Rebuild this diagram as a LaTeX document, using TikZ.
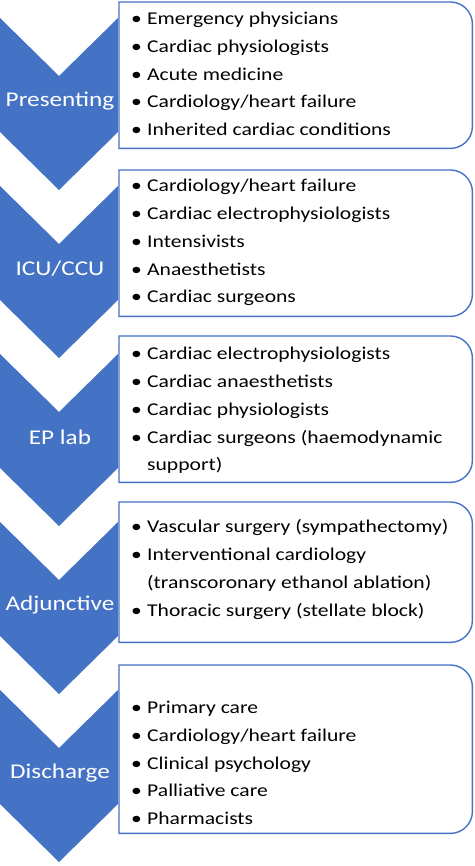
\documentclass[tikz,border=0pt]{standalone}
\usepackage{fontspec}
\setmainfont{Carlito}
\newfontfamily\widefont[FakeStretch=1.2]{Carlito}
\usepackage{tikz}
\usetikzlibrary{positioning,calc}

\definecolor{stageblue}{HTML}{4472C4}

\newcommand{\itm}{\makebox[16pt][l]{\textbullet}}
\newcommand{\cnt}{\hspace*{16pt}}
\newcommand{\panelframe}[1]{%
  \draw[outline] (#1.north west) -- ([xshift=-22pt]#1.north east)
    arc[start angle=90, end angle=0, radius=22pt] -- ([yshift=22pt]#1.south east)
    arc[start angle=0, end angle=-90, radius=22pt] -- (#1.south west) -- cycle;}

\begin{document}
\begin{tikzpicture}[x=1pt, y=1pt,
    chevron/.style={fill=stageblue},
    stage/.style={text=white, font=\widefont\fontsize{21}{24}\selectfont, inner sep=0pt},
    panel/.style={rectangle, inner sep=0pt, minimum width=353pt, anchor=north west},
    outline/.style={draw=stageblue, line width=1.4pt},
    items/.style={anchor=west, align=left, inner sep=0pt, font=\widefont\fontsize{18}{27.8}\selectfont}
  ]
    \useasboundingbox (0,0) rectangle (474,-866);

    % --- STAGE CHEVRONS ---
    \foreach \t/\name/\lab in {18/presenting/Presenting, 186/icu/{ICU/CCU}, 354/eplab/EP lab, 522/adjunctive/Adjunctive, 690/discharge/Discharge}
    {
      \fill[chevron] (0,-\t) -- (59,-\t-58) -- (118,-\t) -- (118,-\t-114) -- (59,-\t-172) -- (0,-\t-114) -- cycle;
      \node[stage] (\name) at (60,-\t-83) {\lab};
    }

    % --- SPECIALTY PANELS ---
    \node[panel, minimum height=146pt] (box1) at (119,-2) {};
    \node[panel, minimum height=146pt] (box2) at (119,-170) {};
    \node[panel, minimum height=146pt] (box3) at (119,-336) {};
    \node[panel, minimum height=140pt] (box4) at (119,-502) {};
    \node[panel, minimum height=168pt] (box5) at (119,-665) {};
    \foreach \b in {box1,box2,box3,box4,box5} {\panelframe{\b}}

    \node[items] (list1) at (131,-74) {\itm Emergency physicians\\ \itm Cardiac physiologists\\ \itm Acute medicine\\ \itm Cardiology/heart failure\\ \itm Inherited cardiac conditions};
    \node[items] (list2) at (131,-242.5) {\itm Cardiology/heart failure\\ \itm Cardiac electrophysiologists\\ \itm Intensivists\\ \itm Anaesthetists\\ \itm Cardiac surgeons};
    \node[items] (list3) at (131,-410.5) {\itm Cardiac electrophysiologists\\ \itm Cardiac anaesthetists\\ \itm Cardiac physiologists\\ \itm Cardiac surgeons (haemodynamic\\ \cnt support)};
    \node[items] (list4) at (131,-569.5) {\itm Vascular surgery (sympathectomy)\\ \itm Interventional cardiology\\ \cnt (transcoronary ethanol ablation)\\ \itm Thoracic surgery (stellate block)};
    \node[items] (list5) at (131,-763) {\itm Primary care\\ \itm Cardiology/heart failure\\ \itm Clinical psychology\\ \itm Palliative care\\ \itm Pharmacists};
  \end{tikzpicture}
\end{document}
